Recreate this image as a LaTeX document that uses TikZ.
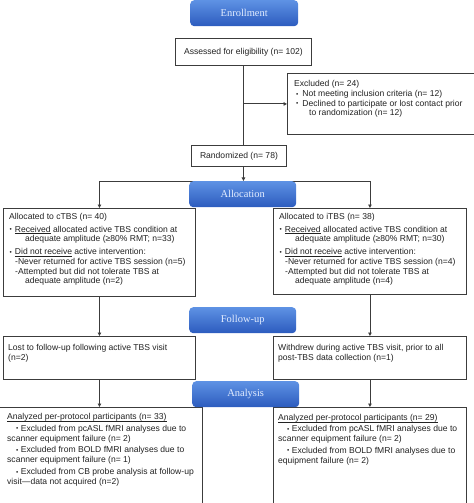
\documentclass[tikz,border=0pt]{standalone}
\usepackage{fontspec}
\setmainfont{Liberation Sans}
\newfontfamily\hdrfont{Liberation Serif}
\usetikzlibrary{arrows.meta}
\definecolor{linecol}{HTML}{3C3C3C}
\definecolor{bluetop}{HTML}{5E92E4}
\definecolor{bluebot}{HTML}{2C5BBE}
\definecolor{hdrtxt}{HTML}{E2ECFF}
\definecolor{txtcol}{HTML}{222222}
\newcommand{\bul}{\raisebox{0.3bp}{\scalebox{0.75}{•}}}
\newcommand{\uln}[1]{\setbox0\hbox{#1}\rlap{\rule[-1.6bp]{\wd0}{0.45bp}}\box0\relax}
\tikzset{
  hdr/.style={rounded corners=4bp, top color=bluetop, bottom color=bluebot, draw=none,
    text=hdrtxt, font=\hdrfont\fontsize{10.5}{12}\selectfont,
    minimum width=107bp, minimum height=26bp, inner sep=0, anchor=north west},
  box/.style={draw=linecol, line width=0.9bp, fill=white, inner sep=0, anchor=north west,
    text=txtcol, font=\fontsize{8.6}{9.2}\selectfont},
  txt/.style={inner sep=0, anchor=north west, align=left, text=txtcol},
  conn/.style={draw=linecol, line width=0.9bp},
  arr/.style={conn, -{Triangle[length=3.5bp,width=3.5bp]}},
}
\begin{document}
\begin{tikzpicture}[x=1bp,y=-1bp]
\useasboundingbox (0,0) rectangle (474,503);
\clip (0,0) rectangle (474,503);
% boxes
\node[box, minimum width=136bp, minimum height=27bp] (assess) at (175,38) {Assessed for eligibility (n= 102)};
\node[box, minimum width=187bp, minimum height=61bp] (excl) at (287,73) {};
\node[box, minimum width=95bp, minimum height=21bp] (rand) at (191,145) {Randomized (n= 78)};
\node[box, minimum width=192bp, minimum height=88bp] (al1) at (3,208) {};
\node[box, minimum width=193bp, minimum height=86bp] (al2) at (273,208) {};
\node[box, minimum width=192bp, minimum height=43bp] (fu1) at (3,336) {};
\node[box, minimum width=193bp, minimum height=43bp] (fu2) at (273,336) {};
\node[box, minimum width=203bp, minimum height=110bp] (an1) at (-1,407) {};
\node[box, minimum width=193bp, minimum height=110bp] (an2) at (273,407) {};
% connectors
\draw[conn] (assess.south) -- (assess.south |- rand.north);
\coordinate (br) at (assess.south |- excl.west);
\draw[arr] (br) -- (excl.west);
\coordinate (randbot) at (assess.south |- rand.south);
\coordinate (alloctop) at (assess.south |- 0,181);
\draw[arr] (randbot) -- (alloctop);
\draw[arr] (alloctop) -| (al1.north);
\draw[arr] (alloctop) -| (al2.north);
\draw[arr] (al1.south) -- (fu1.north);
\draw[arr] (al2.south) -- (fu2.north);
\draw[arr] (fu1.south) -- (fu1.south |- an1.north);
\draw[arr] (fu2.south) -- (fu2.south |- an2.north);
% headers
\node[hdr, minimum width=108bp] (enr) at (190,0) {Enrollment};
\node[hdr] (alloc) at (189,181) {Allocation};
\node[hdr] (fup) at (189,307) {Follow-up};
\node[hdr] (ana) at (192,381) {Analysis};
% texts
\node[txt, font=\fontsize{8.6}{9.6}\selectfont] (excltxt) at (294,80.5) {Excluded (n= 24)\\
\hspace*{2bp}\bul\hspace{4bp}Not meeting inclusion criteria (n= 12)\\
\hspace*{2bp}\bul\hspace{4bp}Declined to participate or lost contact prior\\
\hspace*{15bp}to randomization (n= 12)};
\node[txt, font=\fontsize{8.6}{9.8}\selectfont] (al1txt) at (9,213) {Allocated to cTBS (n= 40)\\[3bp]
\hspace*{0.5bp}\bul\hspace{3bp}\uln{Received} allocated active TBS condition at\\
\hspace*{16bp}adequate amplitude (≥80\% RMT; n=33)\\[3bp]
\hspace*{0.5bp}\bul\hspace{3bp}\uln{Did not receive} active intervention:\\
\hspace*{6bp}-Never returned for active TBS session (n=5)\\
\hspace*{6bp}-Attempted but did not tolerate TBS at\\
\hspace*{16bp}adequate amplitude (n=2)};
\node[txt, font=\fontsize{8.6}{9.8}\selectfont] (al2txt) at (279,213) {Allocated to iTBS (n= 38)\\[3bp]
\hspace*{0.5bp}\bul\hspace{3bp}\uln{Received} allocated active TBS condition at\\
\hspace*{16bp}adequate amplitude (≥80\% RMT; n=30)\\[3bp]
\hspace*{0.5bp}\bul\hspace{3bp}\uln{Did not receive} active intervention:\\
\hspace*{6bp}-Never returned for active TBS session (n=4)\\
\hspace*{6bp}-Attempted but did not tolerate TBS at\\
\hspace*{16bp}adequate amplitude (n=4)};
\node[txt, font=\fontsize{8.6}{9.2}\selectfont] (fu1txt) at (8,344.5) {Lost to follow-up following active TBS visit\\(n=2)};
\node[txt, font=\fontsize{8.6}{9.2}\selectfont] (fu2txt) at (278,344.5) {Withdrew during active TBS visit, prior to all\\post-TBS data collection (n=1)};
\node[txt, font=\fontsize{8.6}{10.2}\selectfont] (an1txt) at (7,413.5) {\uln{Analyzed per-protocol participants (n= 33)}\\[1.2bp]
\hspace*{9bp}\bul\hspace{2.5bp}Excluded from pcASL fMRI analyses due to\\
scanner equipment failure (n= 2)\\[1.2bp]
\hspace*{9bp}\bul\hspace{2.5bp}Excluded from BOLD fMRI analyses due to\\
scanner equipment failure (n= 1)\\[1.2bp]
\hspace*{9bp}\bul\hspace{2.5bp}Excluded from CB probe analysis at follow-up\\
visit---data not acquired (n=2)};
\node[txt, font=\fontsize{8.6}{10.2}\selectfont] (an2txt) at (278,414) {\uln{Analyzed per-protocol participants (n= 29)}\\[1.2bp]
\hspace*{9bp}\bul\hspace{2.5bp}Excluded from pcASL fMRI analyses due to\\
scanner equipment failure (n= 2)\\[1.2bp]
\hspace*{9bp}\bul\hspace{2.5bp}Excluded from BOLD fMRI analyses due to\\
equipment failure (n= 2)};
\end{tikzpicture}
\end{document}
